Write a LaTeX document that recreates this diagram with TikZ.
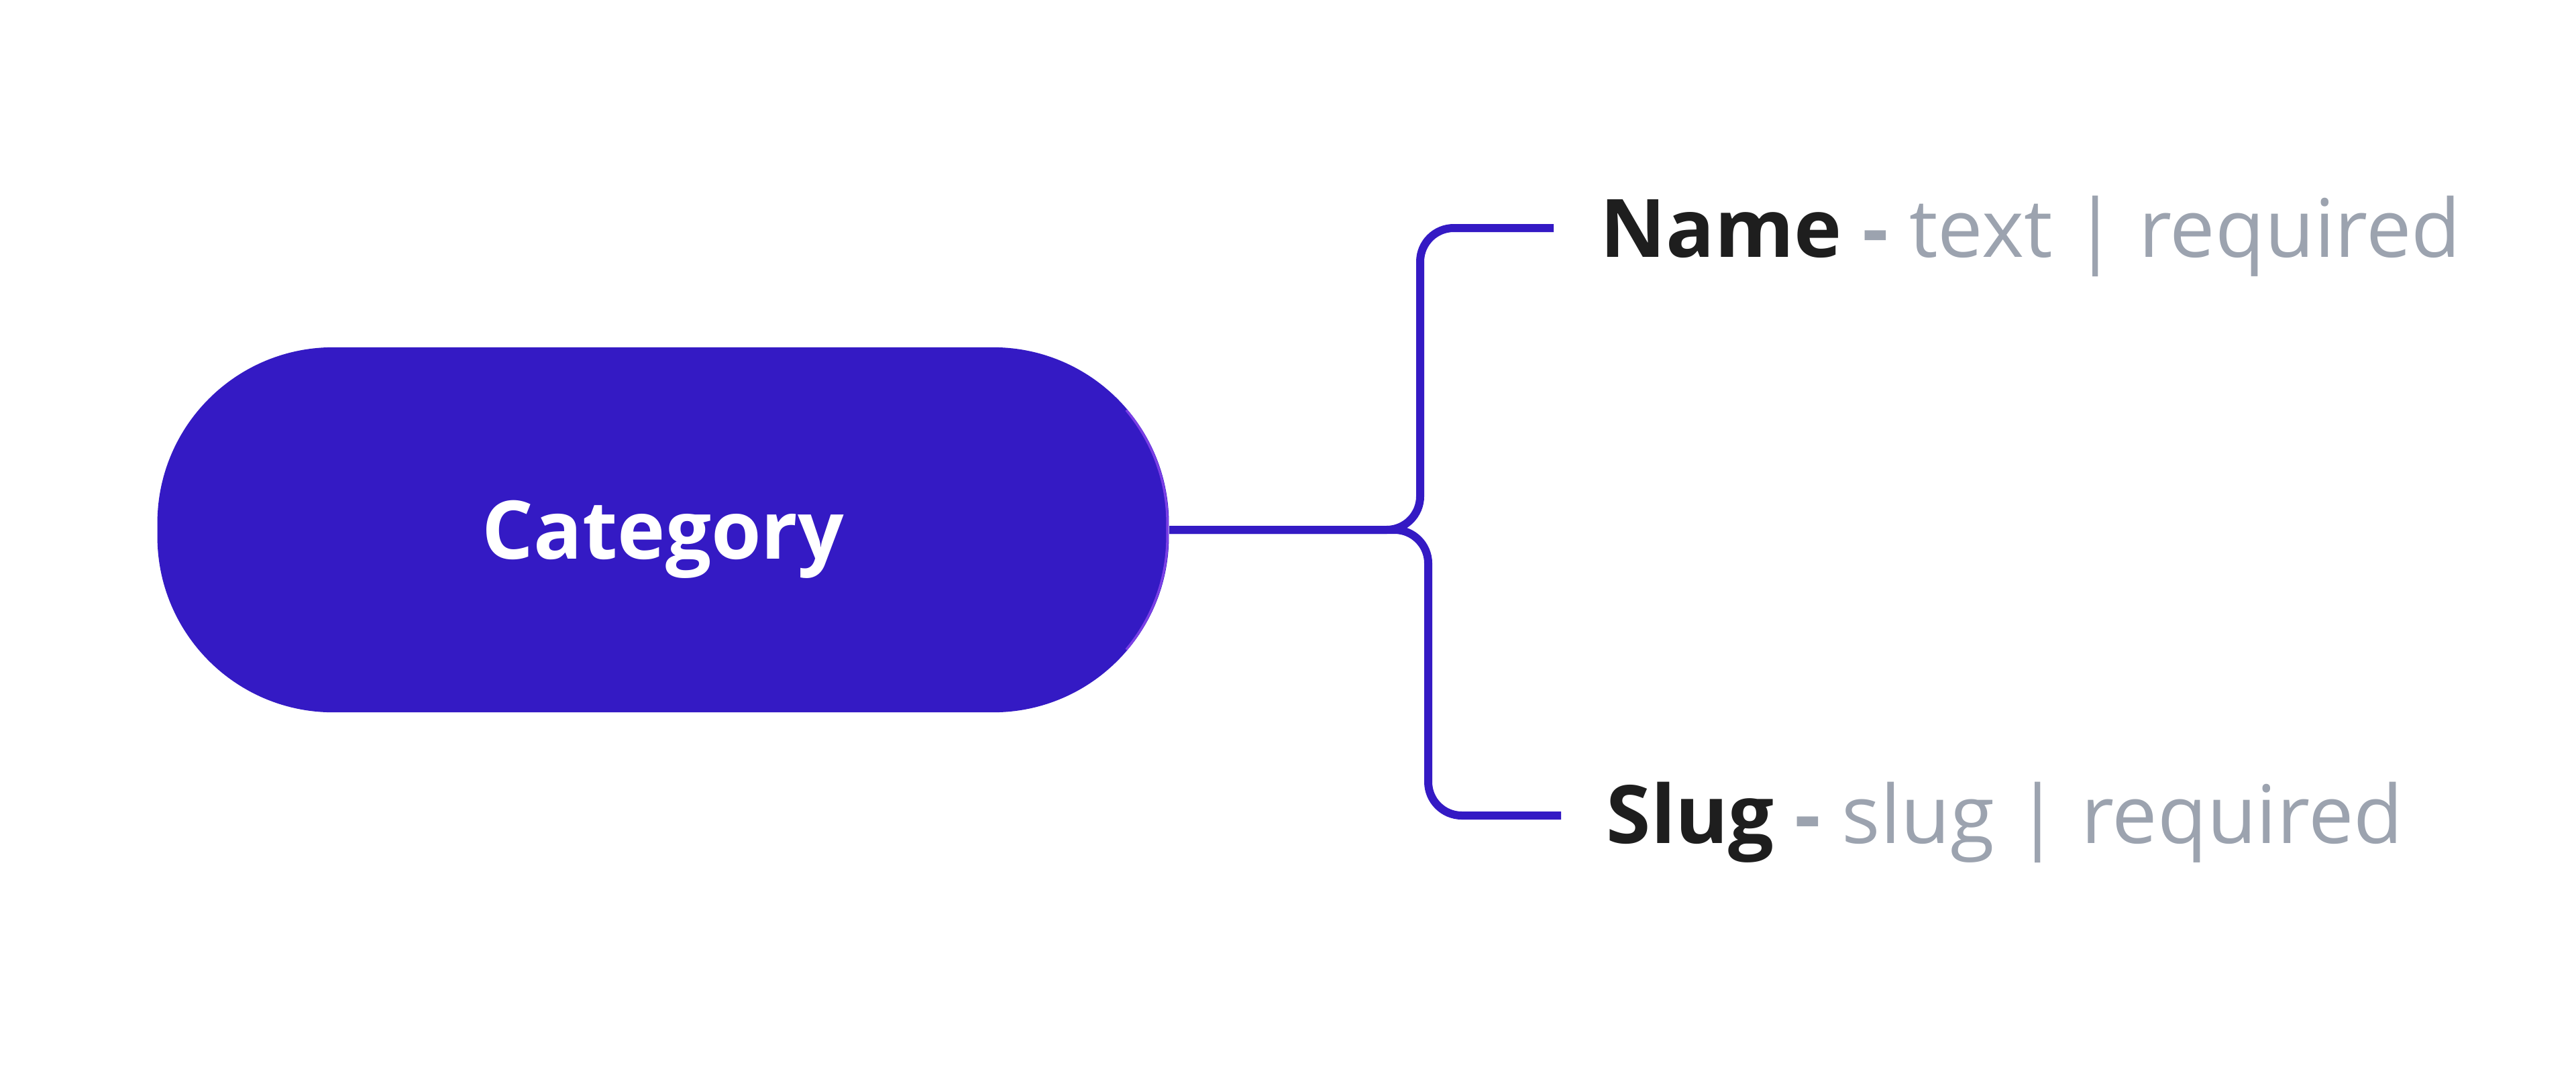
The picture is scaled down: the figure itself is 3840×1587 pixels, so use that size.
\documentclass[tikz,border=0pt]{standalone}
\usepackage{fontspec}
\setmainfont{Open Sans}
\usepackage{tikz}
\usetikzlibrary{positioning}
\definecolor{pillblue}{HTML}{341AC4}
\definecolor{pillrim}{HTML}{7B3FE6}
\definecolor{fieldgray}{HTML}{9CA3AF}
\definecolor{fieldblack}{HTML}{1E1E1E}

\begin{document}
\begin{tikzpicture}[x=0.01cm,y=-0.01cm,
		pill/.style={rectangle,rounded corners=2.62cm,fill=pillblue,minimum width=15.07cm,minimum height=5.44cm,inner sep=0pt,text height=24.5pt,text depth=0pt,text=white,font=\fontsize{34.3}{40}\selectfont\bfseries},
		field/.style={anchor=base west,inner sep=0pt,text=fieldgray,font=\fontsize{34.2}{40}\selectfont},
		branch/.style={draw=pillblue,line width=0.12cm,rounded corners=0.5cm},
		rim/.style={draw=pillrim,line width=0.035cm}]
				\useasboundingbox (0,0) rectangle (3840,1587);
				\node[pill] (cat) at (988.5,790) {Category};
				\node[field] (name) at (2385,383) {\textcolor{fieldblack}{\bfseries Name} \textbf{-} text | required};
				\node[field] (slug) at (2394,1257) {\textcolor{fieldblack}{\bfseries Slug} \textbf{-} slug | required};
				\coordinate (nameline) at (2316,340);
				\coordinate (slugline) at (2327,1216);
				\draw[rim] (1478,780) ++(40:2.62cm) arc[start angle=40,end angle=0,radius=2.62cm] -- ++(0,-0.2cm) arc[start angle=0,end angle=-40,radius=2.62cm];
				\draw[branch] (cat.east) -| (2117,340) -- (nameline);
				\draw[branch] (cat.east) -| (2129,1216) -- (slugline);
			\end{tikzpicture}
\end{document}
